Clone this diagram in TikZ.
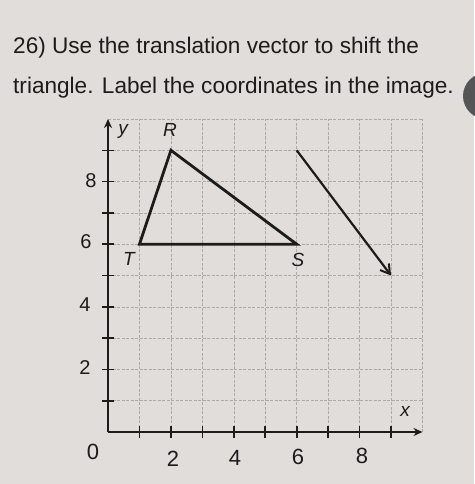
\documentclass[tikz,border=0pt]{standalone}
\usepackage{fontspec}
\setmainfont{Liberation Sans}
\usetikzlibrary{arrows.meta}
\definecolor{paper}{RGB}{224,221,219}
\definecolor{ink}{RGB}{28,28,28}
\definecolor{gridc}{RGB}{172,169,167}
\definecolor{blob}{RGB}{85,85,88}
\tikzset{
  gridline/.style={draw=gridc, line width=0.6pt, dash pattern=on 3pt off 1.5pt},
  axisline/.style={draw=ink, line width=2.8pt},
  tickline/.style={draw=ink, line width=1.6pt},
  triline/.style={draw=ink, line width=2.8pt, line join=miter},
  vecline/.style={draw=ink, line width=2.2pt, -{Straight Barb[length=9pt,width=11pt,line width=2pt]}},
  title/.style={anchor=base west, inner sep=0pt, text=ink, font=\fontsize{22.6}{26}\selectfont},
  ylab/.style={inner sep=0pt, text=ink, font=\fontsize{20}{23}\selectfont},
  xlab/.style={inner sep=0pt, text=ink, font=\fontsize{22}{25}\selectfont},
  vlab/.style={inner sep=0pt, text=ink, font=\fontsize{19}{22}\selectfont\itshape},
}
\begin{document}
\begin{tikzpicture}[x=1pt,y=-1pt]
\useasboundingbox (0,0) rectangle (474,484);
\fill[paper] (0,0) rectangle (474,484);
\fill[blob] (486,96) circle (23);
\node[title] (t1) at (13,54) {26) Use the translation vector to shift the};
\node[title] (t2) at (13,93.5) {triangle. Label the coordinates in the image.};
\begin{scope}[shift={(108,432)}]
\begin{scope}[x=31.45pt,y=31.3pt]
  % grid
  \foreach \i in {1,...,10} {
    \draw[gridline] (\i,0) -- (\i,10);
    \draw[gridline] (0,\i) -- (10,\i);
  }
  \coordinate (O) at (0,0);
  \coordinate (Xe) at (10,0);
  \coordinate (Ye) at (0,10);
  % axes
  \draw[axisline, -{Stealth[length=9pt,width=8pt]}] (O) -- (Xe);
  \draw[axisline, -{Stealth[length=9pt,width=8pt]}] (O) -- (Ye);
  \foreach \i in {1,...,9} {
    \draw[tickline] (\i,-0.19) -- (\i,0.19);
    \draw[tickline] (-0.19,\i) -- (0.19,\i);
  }
  % triangle
  \coordinate (R) at (2,9);
  \coordinate (S) at (6,6);
  \coordinate (T) at (1,6);
  \draw[triline] (R) -- (S) -- (T) -- cycle;
  % vector
  \coordinate (V1) at (6,9);
  \coordinate (V2) at (9,5);
  \draw[vecline] (V1) -- (V2);
\end{scope}
\end{scope}
% labels
\node[vlab] (ly) at (123,131) {y};
\node[vlab] (lR) at (170,130) {R};
\node[vlab] (lT) at (129,259) {T};
\node[vlab] (lS) at (298,260) {S};
\node[vlab] (lx) at (405,411) {x};
\node[ylab] (y8) at (91,181) {8};
\node[ylab] (y6) at (86,242) {6};
\node[ylab] (y4) at (85,305) {4};
\node[ylab] (y2) at (85,368) {2};
\node[xlab] (x0) at (93,452) {0};
\node[xlab] (x2) at (173,459) {2};
\node[xlab] (x4) at (235,458) {4};
\node[xlab] (x6) at (298,457) {6};
\node[xlab] (x8) at (362,456) {8};
\end{tikzpicture}
\end{document}
